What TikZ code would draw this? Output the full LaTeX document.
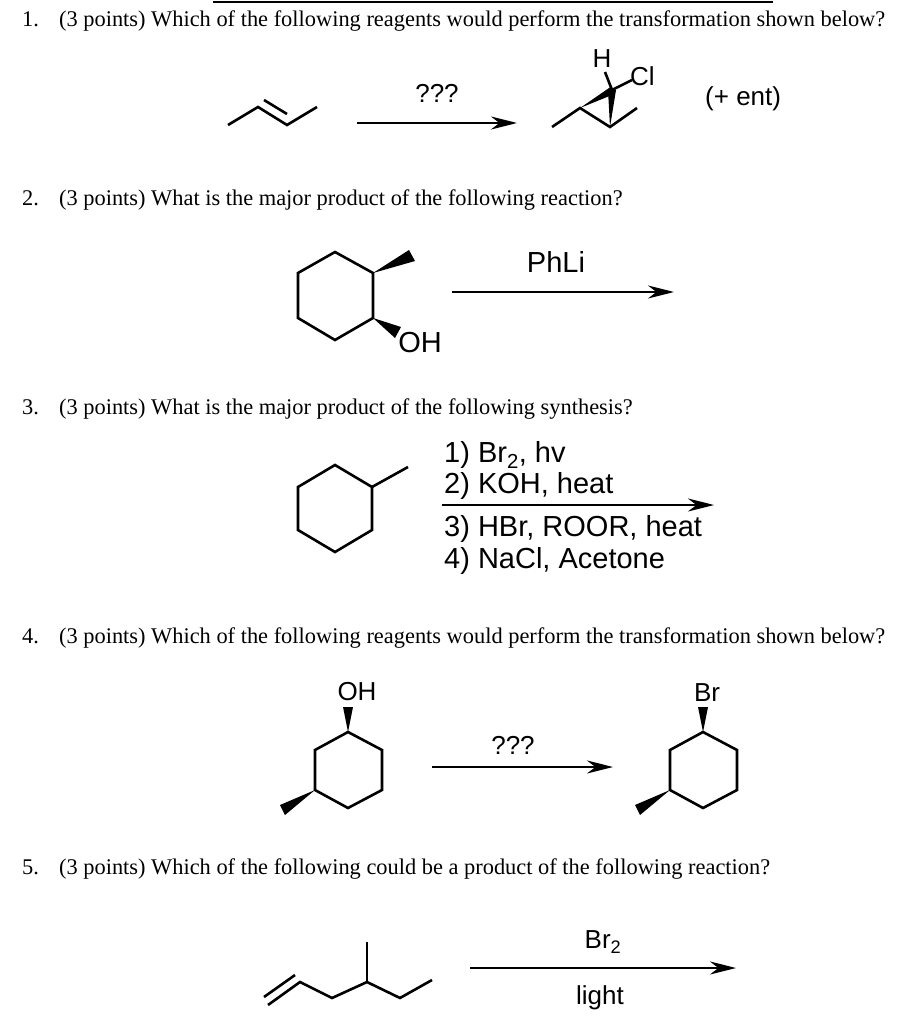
\documentclass[tikz,border=0pt]{standalone}
\usepackage{fontspec}
\setmainfont{Liberation Serif}
\newfontfamily\chemf{Liberation Sans}
\usetikzlibrary{arrows.meta}
\begin{document}
\begin{tikzpicture}[x=1pt,y=-1pt,
  bond/.style={line width=2.6pt,line join=miter},
  rxn/.style={line width=2.6pt,-{Stealth[length=26pt,width=13pt]}},
  qtext/.style={anchor=base west,inner sep=0pt,font=\fontsize{22.4}{26}\selectfont},
  lab/.style={inner sep=0pt,font=\chemf\fontsize{26}{30}\selectfont},
  big/.style={inner sep=0pt,font=\chemf\fontsize{29}{34}\selectfont},
  wedge/.style={fill=black}]
\useasboundingbox (0,0) rectangle (900,1024);
\fill[white] (0,0) rectangle (900,1024);
\draw[line width=2.6pt] (213,2) -- (773,2);
% Questions
\node[qtext] (q1) at (22,27) {1.\hspace{0.9em}(3 points) Which of the following reagents would perform the transformation shown below?};
\node[qtext] (q2) at (22,206) {2.\hspace{0.9em}(3 points) What is the major product of the following reaction?};
\node[qtext] (q3) at (22,414) {3.\hspace{0.9em}(3 points) What is the major product of the following synthesis?};
\node[qtext] (q4) at (22,643) {4.\hspace{0.9em}(3 points) Which of the following reagents would perform the transformation shown below?};
\node[qtext] (q5) at (22,874) {5.\hspace{0.9em}(3 points) Which of the following could be a product of the following reaction?};

% Q1
\draw[bond] (228,125) -- (258,107) -- (287,125) -- (317,107);
\draw[bond] (264,100) -- (287,114);
\coordinate (a1s) at (357,123); \coordinate (a1e) at (517,123);
\draw[rxn] (a1s) -- (a1e);
\node[lab] (r1) at (437,93) {???};
\coordinate (cL) at (580,108); \coordinate (cB) at (610,127); \coordinate (cT) at (612,90);
\draw[bond] (552,127) -- (cL) -- (cB) -- (637,108);
\fill[wedge] (cL) -- (612,86) -- (612,95) -- cycle;
\fill[wedge] (cB) -- (608,90) -- (616,90) -- cycle;
\draw[bond] (cT) -- (605,72);
\draw[bond] (cT) -- (632,80);
\node[lab] (h1) at (602,59) {H};
\node[lab,anchor=west] (cl1) at (630,76) {Cl};
\node[lab,anchor=west] (ent) at (705,99) {(+ ent)};

% Q2
\draw[bond] (335,252) -- (373,273) -- (373,318) -- (335,340) -- (298,318) -- (298,273) -- cycle;
\fill[wedge] (373,273) -- (409,250) -- (415,261) -- cycle;
\fill[wedge] (373,318) -- (401,327) -- (395,338) -- cycle;
\node[big] (oh2) at (420,343) {OH};
\coordinate (a2s) at (452,292); \coordinate (a2e) at (674,292);
\draw[rxn] (a2s) -- (a2e);
\node[big] (phli) at (556,262) {PhLi};

% Q3
\draw[bond] (335,465) -- (372,487) -- (372,530) -- (335,552) -- (298,530) -- (298,487) -- cycle;
\draw[bond] (372,487) -- (408,467);
\coordinate (a3s) at (442,505); \coordinate (a3e) at (714,505);
\draw[rxn] (a3s) -- (a3e);
\node[big,anchor=west] (c31) at (444,455) {1) Br\textsubscript{2}, hv};
\node[big,anchor=west] (c32) at (444,486) {2) KOH, heat};
\node[big,anchor=west] (c33) at (444,529) {3) HBr, ROOR, heat};
\node[big,anchor=west] (c34) at (444,561) {4) NaCl, Acetone};

% Q4
\draw[bond] (348,732) -- (382,750) -- (382,790) -- (348,808) -- (315,790) -- (315,750) -- cycle;
\fill[wedge] (348,732) -- (343,707) -- (353,707) -- cycle;
\node[lab] (oh4) at (357,692) {OH};
\fill[wedge] (315,790) -- (280,805) -- (285,815) -- cycle;
\coordinate (a4s) at (432,767); \coordinate (a4e) at (613,767);
\draw[rxn] (a4s) -- (a4e);
\node[lab] (r4) at (513,745) {???};
\draw[bond] (703,732) -- (737,750) -- (737,790) -- (703,808) -- (670,790) -- (670,750) -- cycle;
\fill[wedge] (703,732) -- (698,707) -- (708,707) -- cycle;
\node[lab] (br4) at (707,693) {Br};
\fill[wedge] (670,790) -- (635,805) -- (640,815) -- cycle;

% Q5
\draw[bond] (268,1005) -- (300,982) -- (332,998) -- (367,982) -- (400,998) -- (432,980);
\draw[bond] (367,982) -- (367,942);
\draw[bond] (264,997) -- (295,975);
\coordinate (a5s) at (470,968); \coordinate (a5e) at (736,968);
\draw[rxn] (a5s) -- (a5e);
\node[lab] (br5) at (603,942) {Br\textsubscript{2}};
\node[lab] (light) at (600,998) {light};
\end{tikzpicture}
\end{document}
